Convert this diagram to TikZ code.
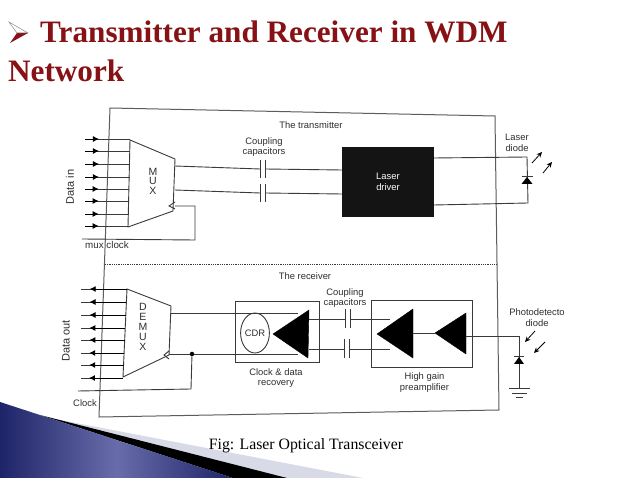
\documentclass[tikz,border=0pt]{standalone}
\usepackage{fontspec}
\setmainfont{Liberation Serif}
\newfontfamily\labelfont{Liberation Sans}
\usetikzlibrary{shapes.geometric, arrows.meta, positioning, calc}
\definecolor{cTitle}{RGB}{134,18,22}
\definecolor{cWire}{RGB}{58,58,58}
\definecolor{cFrame}{RGB}{92,92,92}
\definecolor{cNavy}{RGB}{30,36,104}
\definecolor{cSteel}{RGB}{104,108,170}
\definecolor{cPale}{RGB}{216,218,232}
\tikzset{
	wire/.style     ={draw=cWire, line width=0.9pt},
	frameline/.style={draw=cFrame, line width=1pt},
	plate/.style    ={draw=cWire, line width=1pt},
	sig/.style      ={-{Latex[length=6pt, width=6pt]}, draw=black, line width=0.9pt},
	lightray/.style ={-{Stealth[length=5.5pt, width=5pt]}, draw=black, line width=0.8pt},
	lbl/.style      ={font=\labelfont\fontsize{9.4}{10.6}\selectfont, text=black!82, align=center, inner sep=0pt},
	biglbl/.style   ={font=\labelfont\fontsize{11}{12}\selectfont, text=black!82, align=center, inner sep=0pt},
	amp/.style      ={fill=black, draw=black},
	titletext/.style={font=\bfseries\fontsize{31.2}{32}\selectfont, text=cTitle, anchor=base west, inner sep=0pt},
}
\begin{document}
\begin{tikzpicture}[x=1pt, y=-1pt]
	\useasboundingbox (0,0) rectangle (638,478);
	\fill[white] (0,0) rectangle (638,478);
	% corner decoration
	\fill[cPale] (50,418) -- (363,478) -- (233,478) -- cycle;
	\fill[black] (40,415) -- (287,478) -- (233,478) -- cycle;
	\shade[left color=cNavy, right color=cNavy, middle color=cSteel] (0,402) -- (233,478) -- (0,478) -- cycle;
	% title
	\fill[cTitle] (10,43) -- (28,33) -- (17,33) -- cycle;
	\draw[black!45, line width=0.5pt] (9,22) -- (28,33) -- (17,33) -- cycle;
	\node[titletext] (head1) at (40,43) {Transmitter and Receiver in WDM};
	\node[titletext] (head2) at (8,82) {Network};
	% frame
	\coordinate (fa) at (110,108);
	\coordinate (fb) at (495,116);
	\coordinate (fc) at (499,410);
	\coordinate (fd) at (99,417);
	\draw[frameline] (fa) -- (fb) -- (fc) -- (fd) -- cycle;
	\coordinate (sl) at (105,264);
	\coordinate (sr) at (497,264);
	\draw[draw=cWire, line width=0.8pt, densely dotted] (sl) -- (sr);
	\node[lbl] (ttx) at (311,125) {The transmitter};
	\node[lbl] (trx) at (305,276) {The receiver};
	% mux
	\coordinate (ma) at (130,140);
	\coordinate (mb) at (175,159);
	\coordinate (mc) at (173,211);
	\coordinate (md) at (128,227);
	\draw[wire] (ma) -- (mb) -- (mc) -- (md) -- cycle;
	\node[lbl, font=\labelfont\fontsize{10.5}{9.6}\selectfont] (mtxt) at (153,181) {M\\U\\X};
	\foreach \y/\xe [count=\i] in {139/130,151/130,164/130,177/130,189/129,201/129,214/129,226/129} {
		\coordinate (in\i) at (85,\y);
		\coordinate (mi\i) at (\xe,\y);
		\draw[wire] (in\i) -- (mi\i);
		\draw[sig] (in\i) -- ($(in\i)!0.31!(mi\i)$);
	}
	\node[biglbl, rotate=90] (din) at (70,187) {Data in};
	% mux clock
	\coordinate (mk) at (169,206);
	\coordinate (mk1) at (175,202);
	\coordinate (mk2) at (175,209);
	\draw[wire] (mk1) -- (mk) -- (mk2);
	\coordinate (ck0) at (175,206);
	\coordinate (ck1) at (195,206);
	\coordinate (ck2) at (195,240);
	\coordinate (ck3) at (82,239);
	\draw[wire] (ck0) -- (ck1) -- (ck2) -- (ck3);
	\node[lbl, font=\labelfont\fontsize{9.8}{10.6}\selectfont] (mclk) at (107,245) {mux clock};
	% laser driver
	\node[rectangle, fill=black!92, minimum width=92pt, minimum height=70pt, inner sep=0pt, text=white, font=\labelfont\fontsize{9.4}{10.6}\selectfont, align=center] (ld) at (388,182) {Laser\\ driver};
	\coordinate (mo1) at (175,166);
	\coordinate (mo2) at (175,190);
	\coordinate (ca1) at (260,169);
	\coordinate (cb1) at (265,169);
	\coordinate (ca2) at (260,193);
	\coordinate (cb2) at (265,193);
	\coordinate (li1) at (342,170);
	\coordinate (li2) at (342,194);
	\draw[wire] (mo1) -- (ca1);
	\draw[wire] (cb1) -- (li1);
	\draw[wire] (mo2) -- (ca2);
	\draw[wire] (cb2) -- (li2);
	\draw[plate] ($(ca1)+(0,-9)$) -- ($(ca1)+(0,9)$);
	\draw[plate] ($(cb1)+(0,-9)$) -- ($(cb1)+(0,9)$);
	\draw[plate] ($(ca2)+(0,-9)$) -- ($(ca2)+(0,9)$);
	\draw[plate] ($(cb2)+(0,-9)$) -- ($(cb2)+(0,9)$);
	\node[lbl] (ctop) at (264,147) {Coupling\\ capacitors};
	% laser diode
	\coordinate (lo1) at (434,158);
	\coordinate (lo2) at (434,205);
	\coordinate (lc1) at (527,157);
	\coordinate (lc2) at (528,203);
	\coordinate (ldt) at (527,177);
	\draw[wire] (lo1) -- (lc1) -- (lc2) -- (lo2);
	\fill[black] (ldt) -- ($(ldt)+(-5.5,7)$) -- ($(ldt)+(5.5,7)$) -- cycle;
	\draw[plate] ($(ldt)+(-5.5,0)$) -- ($(ldt)+(5.5,0)$);
	\coordinate (ra1) at (532,163);
	\coordinate (rb1) at (542,152);
	\coordinate (ra2) at (543,173);
	\coordinate (rb2) at (552,162);
	\draw[lightray] (ra1) -- (rb1);
	\draw[lightray] (ra2) -- (rb2);
	\node[lbl] (ltxt) at (517,143) {Laser\\ diode};
	% demux
	\coordinate (da) at (127,289);
	\coordinate (db) at (171,306);
	\coordinate (dc) at (169,355);
	\coordinate (dd) at (123,377);
	\draw[wire] (da) -- (db) -- (dc) -- (dd) -- cycle;
	\node[lbl, font=\labelfont\fontsize{10.5}{10}\selectfont] (dtxt) at (143,327) {D\\E\\M\\U\\X};
	\foreach \y/\xe [count=\i] in {289/127,302/126,315/126,328/125,340/125,353/124,365/124,378/123} {
		\coordinate (ot\i) at (81,\y);
		\coordinate (mo\i) at (\xe,\y);
		\draw[wire] (ot\i) -- (mo\i);
		\draw[sig] (mo\i) -- ($(ot\i)!0.19!(mo\i)$);
	}
	\node[biglbl, rotate=90] (dout) at (66,341) {Data out};
	% cdr
	\node[rectangle, draw=cWire, line width=0.9pt, minimum width=84pt, minimum height=61pt, inner sep=0pt] (cdrbox) at (277,331.5) {};
	\node[ellipse, draw=cWire, line width=0.9pt, minimum width=26pt, minimum height=40pt, inner sep=0pt, font=\labelfont\fontsize{9.4}{10.6}\selectfont, text=black!82] (cdr) at (255,333) {CDR};
	\coordinate (ta) at (273,334);
	\coordinate (tb) at (309,310);
	\coordinate (tc) at (308,358);
	\coordinate (do1) at (171,313);
	\coordinate (di1) at (298,313);
	\coordinate (do2) at (169,354);
	\coordinate (di2) at (298,354);
	\draw[wire] (do1) -- (di1);
	\draw[wire] (do2) -- (di2);
	\fill[amp] (ta) -- (tb) -- (tc) -- cycle;
	\node[lbl] (crtxt) at (276,378) {Clock \& data\\ recovery};
	% demux clock
	\coordinate (dk) at (164,355);
	\coordinate (dk1) at (169,351);
	\coordinate (dk2) at (169,359);
	\draw[wire] (dk1) -- (dk) -- (dk2);
	\node[circle, fill=black, minimum size=4.5pt, inner sep=0pt] (jn) at (192,354) {};
	\coordinate (ke) at (191,389);
	\coordinate (kf) at (78,391);
	\draw[wire] (jn) -- (ke) -- (kf);
	\node[lbl] (clk) at (85,403) {Clock};
	% coupling to preamp
	\coordinate (po1) at (309,319);
	\coordinate (pa1) at (345,319);
	\coordinate (pb1) at (350,319);
	\coordinate (pi1) at (390,319);
	\coordinate (po2) at (309,349);
	\coordinate (pa2) at (344,349);
	\coordinate (pb2) at (349,349);
	\coordinate (pi2) at (390,349);
	\draw[wire] (po1) -- (pa1);
	\draw[wire] (pb1) -- (pi1);
	\draw[wire] (po2) -- (pa2);
	\draw[wire] (pb2) -- (pi2);
	\draw[plate] ($(pa1)+(0,-10)$) -- ($(pa1)+(0,9)$);
	\draw[plate] ($(pb1)+(0,-10)$) -- ($(pb1)+(0,9)$);
	\draw[plate] ($(pa2)+(0,-10)$) -- ($(pa2)+(0,9)$);
	\draw[plate] ($(pb2)+(0,-10)$) -- ($(pb2)+(0,9)$);
	\node[lbl] (cbot) at (345,298) {Coupling\\ capacitors};
	% preamp
	\node[rectangle, draw=cWire, line width=0.9pt, minimum width=101pt, minimum height=67pt, inner sep=0pt] (pbox) at (421.5,333.5) {};
	\coordinate (ua) at (377,334);
	\coordinate (ub) at (413,309);
	\coordinate (uc) at (413,358);
	\coordinate (va) at (435,333);
	\coordinate (vb) at (466,313);
	\coordinate (vc) at (466,354);
	\fill[amp] (ua) -- (ub) -- (uc) -- cycle;
	\fill[amp] (va) -- (vb) -- (vc) -- cycle;
	\coordinate (um) at (413,333);
	\draw[wire] (um) -- (va);
	\node[lbl] (ptxt) at (424.5,382.5) {High gain\\ preamplifier};
	% photodiode
	\coordinate (vo) at (466,336);
	\coordinate (pd) at (519,336);
	\coordinate (gd) at (519,388);
	\coordinate (pdt) at (519,357);
	\draw[wire] (vo) -- (pd) -- (gd);
	\fill[black] (pdt) -- ($(pdt)+(-5,7)$) -- ($(pdt)+(5,7)$) -- cycle;
	\draw[plate] ($(pdt)+(-5,0)$) -- ($(pdt)+(5,0)$);
	\draw[wire] ($(gd)+(-10,0)$) -- ($(gd)+(11,0)$);
	\draw[wire] ($(gd)+(-7,5)$) -- ($(gd)+(8,5)$);
	\draw[wire] ($(gd)+(-3,9)$) -- ($(gd)+(4,9)$);
	\coordinate (sa1) at (535,331);
	\coordinate (sb1) at (525,342);
	\coordinate (sa2) at (545,342);
	\coordinate (sb2) at (534,353);
	\draw[lightray] (sa1) -- (sb1);
	\draw[lightray] (sa2) -- (sb2);
	\node[lbl] (pdtxt) at (537,317.5) {Photodetecto\\ diode};
	% caption
	\node[font=\fontsize{15.8}{17}\selectfont, text=black, anchor=base, inner sep=0pt] (cap) at (306,450) {Fig: Laser Optical Transceiver};
\end{tikzpicture}
\end{document}
